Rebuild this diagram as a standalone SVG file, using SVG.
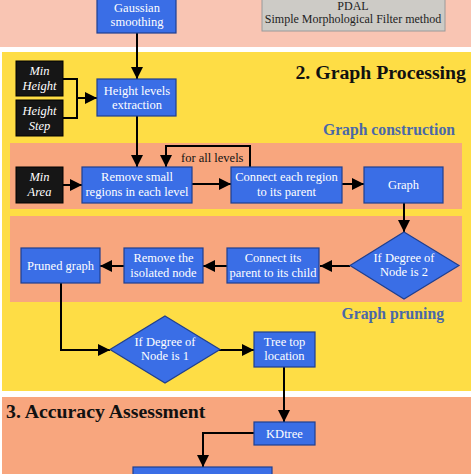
<svg xmlns="http://www.w3.org/2000/svg" width="474" height="474" viewBox="0 0 474 474">
<defs>
<style>
.bx{fill:#3a6ee6;stroke:#1f3f8f;stroke-width:1.2}
.bk{fill:#161616;stroke:#000;stroke-width:1}
.t{font-family:"Liberation Serif","Times New Roman",serif;font-size:12.5px;fill:#fff;text-anchor:middle}
.ti{font-family:"Liberation Serif","Times New Roman",serif;font-size:12.5px;fill:#fff;text-anchor:middle;font-style:italic}
.h{font-family:"Liberation Serif","Times New Roman",serif;font-weight:bold;fill:#111}
.s{font-family:"Liberation Serif","Times New Roman",serif;font-weight:bold;font-size:15.7px;fill:#4a68a8}
.c{fill:none;stroke:#000;stroke-width:2}
</style>
<marker id="ar" viewBox="0 0 10 10" refX="10" refY="5" markerWidth="6" markerHeight="6" orient="auto" markerUnits="strokeWidth">
<path d="M0,0 L10,5 L0,10 z" fill="#000"/>
</marker>
</defs>
<rect width="474" height="474" fill="#fff"/>
<g id="panels">
<rect x="0" y="0" width="471" height="47" fill="#f9c5b3"/>
<rect x="2" y="52" width="469" height="339" fill="#fedd45"/>
<rect x="10" y="143" width="452" height="66" fill="#f8a67e"/>
<rect x="10" y="216" width="452" height="86" fill="#f8a67e"/>
<rect x="2" y="397" width="469" height="77" fill="#f8a67e"/>
</g>
<g id="titles">
<text class="h" x="466" y="79" font-size="19.8" text-anchor="end">2. Graph Processing</text>
<text class="s" x="455" y="135" text-anchor="end">Graph construction</text>
<text class="s" x="444" y="319" text-anchor="end">Graph pruning</text>
<text class="h" x="6" y="418" font-size="19.8">3. Accuracy Assessment</text>
</g>
<g id="connectors">
<line class="c" x1="137" y1="33" x2="137" y2="79" marker-end="url(#ar)"/>
<polyline class="c" points="63,79 77,79 77,118 63,118"/>
<line class="c" x1="77" y1="98" x2="97" y2="98" marker-end="url(#ar)"/>
<line class="c" x1="137" y1="116" x2="137" y2="167" marker-end="url(#ar)"/>
<line class="c" x1="63" y1="185" x2="82" y2="185" marker-end="url(#ar)"/>
<line class="c" x1="192" y1="184" x2="231" y2="184" marker-end="url(#ar)"/>
<polyline class="c" points="250,167 250,146 166,146 166,167" marker-end="url(#ar)"/>
<line class="c" x1="342" y1="184" x2="364" y2="184" marker-end="url(#ar)"/>
<line class="c" x1="404" y1="203" x2="404" y2="232" marker-end="url(#ar)"/>
<line class="c" x1="350" y1="266" x2="320" y2="266" marker-end="url(#ar)"/>
<line class="c" x1="227" y1="266" x2="203" y2="266" marker-end="url(#ar)"/>
<line class="c" x1="124" y1="266" x2="100" y2="266" marker-end="url(#ar)"/>
<polyline class="c" points="61,283 61,350 110,350" marker-end="url(#ar)"/>
<line class="c" x1="219" y1="350" x2="254" y2="350" marker-end="url(#ar)"/>
<line class="c" x1="284" y1="367" x2="284" y2="422" marker-end="url(#ar)"/>
<polyline class="c" points="254,433 203,433 203,467" marker-end="url(#ar)"/>
<text x="181" y="162" font-family="Liberation Serif, serif" font-size="12.5" fill="#111">for all levels</text>
</g>
<g id="gaussian"><rect class="bx" x="97" y="-2" width="79" height="35"/><text class="t" x="137" y="12">Gaussian</text><text class="t" x="137" y="26">smoothing</text></g>
<g id="pdal"><rect x="262" y="-2" width="183" height="33" fill="#cdcbc6" stroke="#9a9a9a" stroke-width="1"/><text class="t" style="fill:#222;font-size:12px" x="353" y="10">PDAL</text><text class="t" style="fill:#222;font-size:12px" x="353" y="23">Simple Morphological Filter method</text></g>
<g id="minheight"><rect class="bk" x="16" y="61" width="47" height="35"/><text class="ti" x="39.5" y="75">Min</text><text class="ti" x="39.5" y="90">Height</text></g>
<g id="heightstep"><rect class="bk" x="16" y="100" width="47" height="36"/><text class="ti" x="39.5" y="115">Height</text><text class="ti" x="39.5" y="130">Step</text></g>
<g id="heightlevels"><rect class="bx" x="97" y="79" width="79" height="37"/><text class="t" x="137" y="95">Height levels</text><text class="t" x="137" y="109">extraction</text></g>
<g id="minarea"><rect class="bk" x="16" y="167" width="47" height="36"/><text class="ti" x="39.5" y="181">Min</text><text class="ti" x="39.5" y="196">Area</text></g>
<g id="removesmall"><rect class="bx" x="82" y="167" width="110" height="36"/><text class="t" x="137" y="181">Remove small</text><text class="t" x="137" y="196">regions in each level</text></g>
<g id="connecteach"><rect class="bx" x="231" y="167" width="111" height="36"/><text class="t" x="286.5" y="181">Connect each region</text><text class="t" x="286.5" y="196">to its parent</text></g>
<g id="graph"><rect class="bx" x="364" y="167" width="79" height="36"/><text class="t" x="403.5" y="189">Graph</text></g>
<g id="deg2"><polygon class="bx" points="404,232 459,265.5 404,299 350,265.5"/><text class="t" x="404" y="262">If Degree of</text><text class="t" x="404" y="276">Node is 2</text></g>
<g id="connectits"><rect class="bx" x="227" y="248" width="92" height="35"/><text class="t" x="273" y="262">Connect its</text><text class="t" x="273" y="277">parent to its child</text></g>
<g id="removeisolated"><rect class="bx" x="124" y="248" width="79" height="35"/><text class="t" x="163.5" y="262">Remove the</text><text class="t" x="163.5" y="277">isolated node</text></g>
<g id="pruned"><rect class="bx" x="21" y="248" width="79" height="35"/><text class="t" x="60.5" y="270">Pruned graph</text></g>
<g id="deg1"><polygon class="bx" points="165,316 220,349.5 165,383 110,349.5"/><text class="t" x="165" y="346">If Degree of</text><text class="t" x="165" y="360">Node is 1</text></g>
<g id="treetop"><rect class="bx" x="254" y="332" width="61" height="35"/><text class="t" x="284.5" y="346">Tree top</text><text class="t" x="284.5" y="360">location</text></g>
<g id="kdtree"><rect class="bx" x="254" y="422" width="61" height="23"/><text class="t" x="284.5" y="438">KDtree</text></g>
<g id="bottombox"><rect class="bx" x="133" y="467" width="139" height="12"/></g>
</svg>
